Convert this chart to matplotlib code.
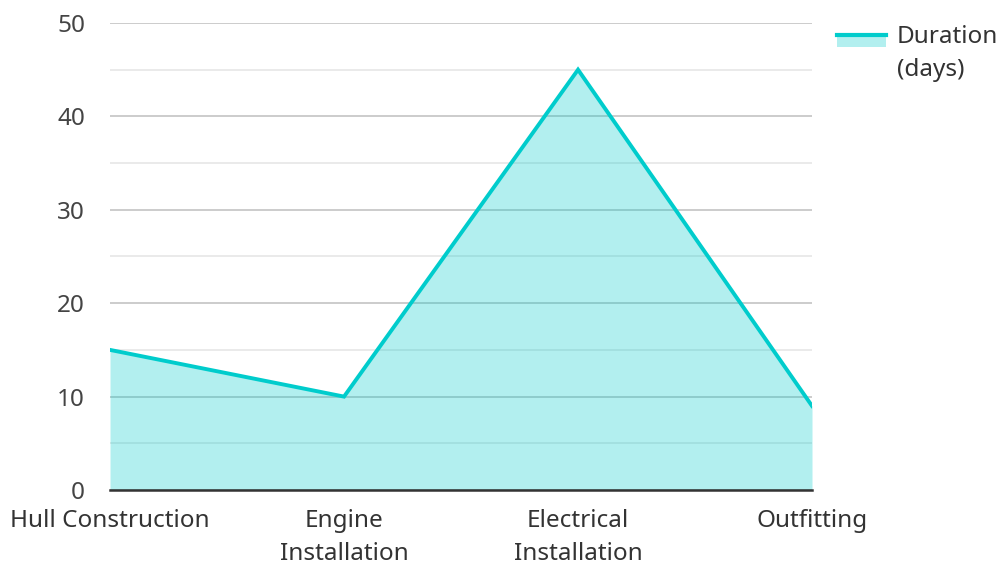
import matplotlib.pyplot as plt
from matplotlib.legend_handler import HandlerBase
from matplotlib.patches import Rectangle
from matplotlib.lines import Line2D

plt.rcParams['font.family'] = ['Noto Sans', 'DejaVu Sans']

stages = ['Hull Construction', 'Engine\nInstallation', 'Electrical\nInstallation', 'Outfitting']
duration = [15, 10, 45, 9]
series_label = 'Duration\n(days)'

line_color = '#00cccc'


class AreaHandler(HandlerBase):
    # legend key: filled box with the series line along its top edge,
    # lifted so it sits beside the first line of the label
    def create_artists(self, legend, orig, xd, yd, width, height, fontsize, trans):
        top = yd + height + 8
        box = Rectangle((xd, top - height * 0.72), width, height * 0.72,
                        facecolor=line_color, alpha=0.3, edgecolor='none',
                        transform=trans)
        ln = Line2D([xd, xd + width], [top, top], color=line_color, lw=3,
                    transform=trans)
        return [box, ln]


fig = plt.figure(figsize=(10.02, 5.62), dpi=100)
ax = fig.add_axes([0.1098, 0.1281, 0.7006, 0.831])

x = range(len(stages))
ax.fill_between(x, duration, 0, color=line_color, alpha=0.3, lw=0, zorder=1)
ax.plot(x, duration, color=line_color, lw=2.8, zorder=3, solid_joinstyle='miter')

ax.set_xlim(0, len(stages) - 1)
ax.set_ylim(0, 50)
ax.set_yticks(range(0, 51, 10))
ax.set_yticks(range(5, 50, 10), minor=True)
ax.grid(axis='y', which='major', color='#c4c4c4', lw=1.2, zorder=0)
ax.grid(axis='y', which='minor', color='#e6e6e6', lw=1.2, zorder=0)
ax.set_axisbelow(True)

ax.set_xticks(list(x))
ax.set_xticklabels(stages, fontsize=17.5, color='#333333', linespacing=1.5)
ax.tick_params(axis='y', which='both', length=0, pad=18, labelsize=17.5, labelcolor='#444444')
ax.tick_params(axis='x', length=0, pad=14)

for s in ['top', 'right', 'left']:
    ax.spines[s].set_visible(False)
ax.spines['bottom'].set_color('#333333')
ax.spines['bottom'].set_linewidth(1.8)
ax.spines['bottom'].set_zorder(4)

proxy = Rectangle((0, 0), 1, 1)
leg = fig.legend([proxy], [series_label], handler_map={Rectangle: AreaHandler()},
                 loc='upper left', bbox_to_anchor=(0.835, 0.955), frameon=False,
                 borderpad=0, borderaxespad=0, fontsize=17.5, handlelength=2.05,
                 handleheight=0.7, handletextpad=0.42, labelcolor='#333333')
for t in leg.get_texts():
    t.set_linespacing(1.5)

fig.savefig('out.png', dpi=100)
